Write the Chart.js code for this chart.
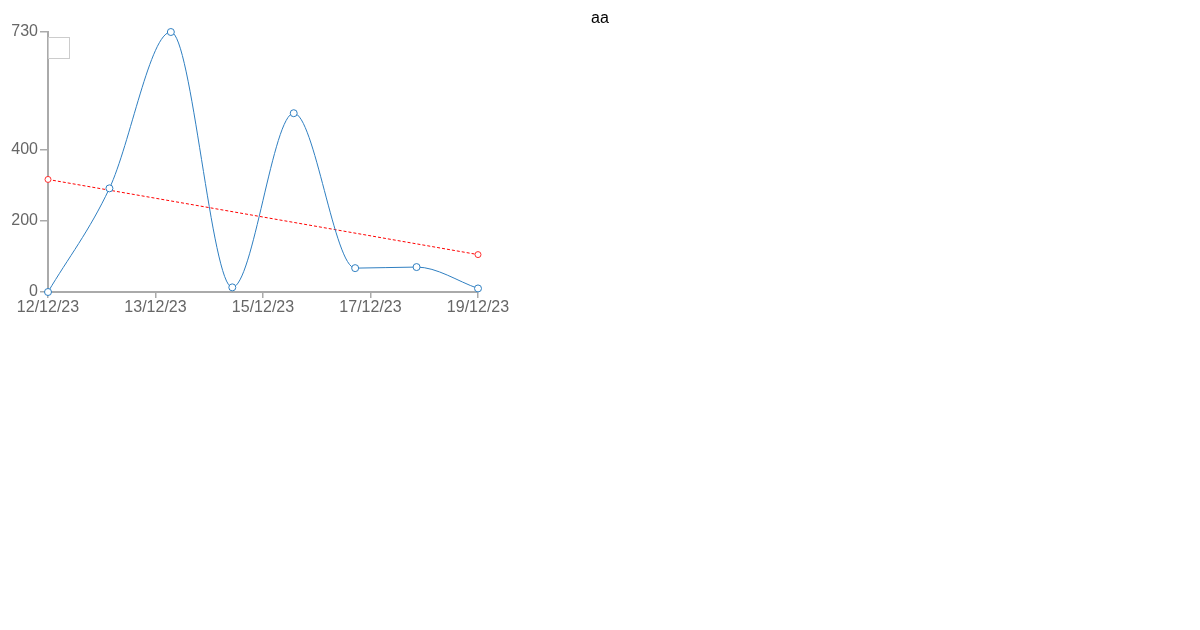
<!DOCTYPE html>
<html>
<head>
<meta charset="utf-8">
<script src="https://cdn.jsdelivr.net/npm/chart.js@4/dist/chart.umd.min.js"></script>
<style>
  html, body { margin: 0; padding: 0; background: #fff; }
  #wrap { position: relative; width: 1200px; height: 630px; }
  #title { position: absolute; left: 0; top: 10px; width: 1200px; text-align: center;
           font: 16px "Liberation Sans", Arial, sans-serif; line-height: 16px; color: #000; }
  #legendBox { position: absolute; left: 48px; top: 37px; width: 20px; height: 20px;
               border: 1px solid #ccc; background: #fff; box-sizing: content-box; }
  canvas { position: absolute; left: 0; top: 0; }
</style>
</head>
<body>
<div id="wrap">
  <canvas id="c" width="1200" height="630"></canvas>
  <div id="title">aa</div>
  <div id="legendBox"></div>
</div>
<script>
const categories = ['12/12/23','13/12/23','14/12/23','15/12/23','16/12/23','17/12/23','18/12/23','19/12/23'];
const seriesValues = [0, 291, 730, 13, 502, 67, 70, 10];
const trendX = [0, 7];
const trendValues = [316, 105];
const xTickValues = [0, 1.75, 3.5, 5.25, 7];
const xTickLabels = ['12/12/23','13/12/23','15/12/23','17/12/23','19/12/23'];
const yTickValues = [0, 200, 400, 730];
const chartTitle = 'aa';

document.getElementById('title').textContent = chartTitle;

const axisColor = '#aaa';
const tickFont = { family: '"Liberation Sans", Arial, sans-serif', size: 16 };

new Chart(document.getElementById('c'), {
  type: 'line',
  data: {
    datasets: [
      {
        label: 'series',
        data: seriesValues.map((v, i) => ({ x: i, y: v })),
        borderColor: '#2f7fc1',
        borderWidth: 1,
        cubicInterpolationMode: 'monotone',
        pointRadius: 3.5,
        pointBorderWidth: 1,
        pointBackgroundColor: '#fff',
        pointBorderColor: '#2f7fc1',
        fill: false,
        clip: false
      },
      {
        label: 'trend',
        data: trendX.map((x, i) => ({ x: x, y: trendValues[i] })),
        borderColor: '#ff0000',
        borderWidth: 1,
        borderDash: [3, 2],
        tension: 0,
        pointRadius: 3,
        pointBorderWidth: 1,
        pointBackgroundColor: '#fff',
        pointBorderColor: '#ff3030',
        fill: false,
        clip: false
      }
    ]
  },
  options: {
    responsive: false,
    animation: false,
    devicePixelRatio: 1,
    layout: { padding: { top: 32, right: 722, bottom: 308, left: 0 } },
    plugins: { legend: { display: false }, title: { display: false }, tooltip: { enabled: false } },
    scales: {
      x: {
        type: 'linear',
        min: 0, max: 7,
        afterBuildTicks: s => { s.ticks = xTickValues.map(v => ({ value: v })); },
        afterFit: s => { s.height = 30; },
        ticks: {
          autoSkip: false, maxRotation: 0, padding: 0, color: '#666', font: tickFont,
          callback: (v, i) => xTickLabels[i]
        },
        grid: { display: true, drawOnChartArea: false, drawTicks: true, tickLength: 6, color: axisColor, lineWidth: 1.5 },
        border: { display: true, color: axisColor, width: 2 }
      },
      y: {
        type: 'linear',
        min: 0, max: 730,
        afterBuildTicks: s => { s.ticks = yTickValues.map(v => ({ value: v })); },
        afterFit: s => { s.width = 48; },
        ticks: { padding: 2, color: '#666', font: tickFont },
        grid: { display: true, drawOnChartArea: false, drawTicks: true, tickLength: 8, color: axisColor, lineWidth: 1.5 },
        border: { display: true, color: axisColor, width: 2 }
      }
    }
  }
});
</script>
</body>
</html>
